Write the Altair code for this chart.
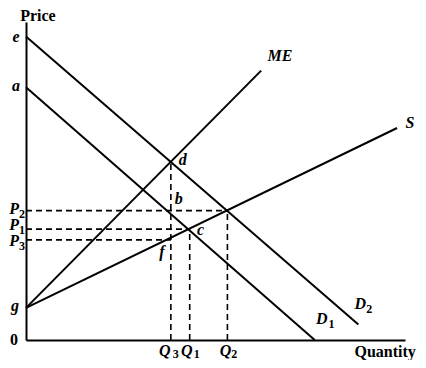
import altair as alt
import pandas as pd

# Curves (start and end points, in chart units)
curve_names = ["D1", "D2", "ME", "S"]
curve_x1 = [0, 0, 0, 0]
curve_y1 = [260, 312, 33, 33]
curve_x2 = [291, 335, 237, 374]
curve_y2 = [0, 16, 277, 218]

# Equilibrium guide values
q_names = ["Q3", "Q1", "Q2"]
q_vals = [146, 165, 203]
q_tops = [183, 114, 133]
p_names = ["P2", "P1", "P3"]
p_vals = [133, 114, 103]
p_ends = [203, 165, 146]

# Italic labels: main letter and subscripts
lab_text = ["e", "a", "g", "P", "P", "P", "Q", "Q", "Q", "ME", "S", "D", "D", "d", "b", "c", "f"]
lab_x = [-10, -10, -11, -12, -12, -12, 140, 162, 201, 256, 387, 337, 298, 158, 154, 176, 137]
lab_y = [312, 261, 35, 135, 118, 102, -11, -11, -11, 292, 223, 37, 22, 185, 145, 113, 90]
sub_text = ["2", "1", "3", "3", "1", "2", "2", "1"]
sub_x = [-4, -4, -4, 151, 172, 210, 346, 308]
sub_y = [130, 113, 97, -14, -14, -14, 32, 16]

# Upright labels
up_text = ["Price", "Quantity", "0"]
up_x = [12, 362, -12]
up_y = [333, -12, 0]

curves = pd.DataFrame({"name": curve_names, "x": curve_x1, "y": curve_y1,
                       "x2": curve_x2, "y2": curve_y2})
dash_rows = []
for n, q, t in zip(q_names, q_vals, q_tops):
    dash_rows.append({"x": q, "y": 0, "x2": q, "y2": t})
for n, p, e in zip(p_names, p_vals, p_ends):
    dash_rows.append({"x": 0, "y": p, "x2": e, "y2": p})
dashes = pd.DataFrame(dash_rows)
labs = pd.DataFrame({"t": lab_text, "x": lab_x, "y": lab_y})
subs = pd.DataFrame({"t": sub_text, "x": sub_x, "y": sub_y})
ups = pd.DataFrame({"t": up_text, "x": up_x, "y": up_y})

xs = alt.Scale(domain=[0, 382], nice=False, zero=False)
ys = alt.Scale(domain=[0, 327], nice=False, zero=False)
xax = alt.Axis(title=None, labels=False, ticks=False, grid=False,
               domainColor="black", domainWidth=2)
yax = alt.Axis(title=None, labels=False, ticks=False, grid=False,
               domainColor="black", domainWidth=2)

base_solid = alt.Chart(curves).mark_rule(color="black", strokeWidth=2).encode(
    x=alt.X("x:Q", scale=xs, axis=xax), y=alt.Y("y:Q", scale=ys, axis=yax),
    x2="x2:Q", y2="y2:Q")
dashed = alt.Chart(dashes).mark_rule(color="black", strokeWidth=1.6,
                                     strokeDash=[6, 4]).encode(
    x=alt.X("x:Q", scale=xs), y=alt.Y("y:Q", scale=ys), x2="x2:Q", y2="y2:Q")

font = "Liberation Serif"
italic = alt.Chart(labs).mark_text(font=font, fontSize=16, fontWeight="bold",
                                   fontStyle="italic", color="black",
                                   baseline="middle", align="center").encode(
    x=alt.X("x:Q", scale=xs), y=alt.Y("y:Q", scale=ys), text="t:N")
subscr = alt.Chart(subs).mark_text(font=font, fontSize=12, fontWeight="bold",
                                   color="black", baseline="middle",
                                   align="center").encode(
    x=alt.X("x:Q", scale=xs), y=alt.Y("y:Q", scale=ys), text="t:N")
upright = alt.Chart(ups).mark_text(font=font, fontSize=16, fontWeight="bold",
                                   color="black", baseline="middle",
                                   align="center").encode(
    x=alt.X("x:Q", scale=xs), y=alt.Y("y:Q", scale=ys), text="t:N")

chart = alt.layer(base_solid, dashed, italic, subscr, upright).properties(
    width=379, height=318, autosize="none",
    padding={"left": 18, "top": 14, "right": 13, "bottom": 20},
).configure_view(stroke=None)

chart.save("out.html", embed_options={"renderer": "svg", "actions": False})
